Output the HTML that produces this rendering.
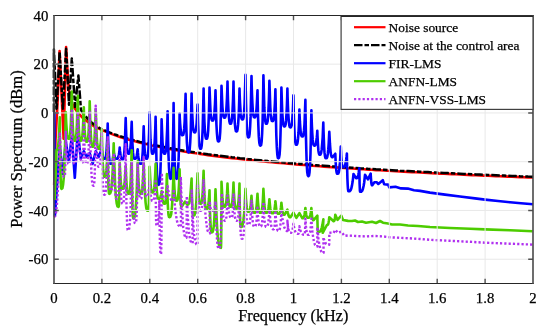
<!DOCTYPE html>
<html><head><meta charset="utf-8"><style>
html,body{margin:0;padding:0;background:#fff;width:550px;height:330px;overflow:hidden}
svg{display:block}
text{font-family:"Liberation Serif",serif;fill:#000;stroke:#000;stroke-width:0.25px}
</style></head><body>
<svg width="550" height="330" viewBox="0 0 550 330">
<polyline points="54.2,185.0 55.5,140.0 57.5,104.0 59.6,51.0 63.6,138.8 66.1,47.1 68.0,80.0 69.8,99.0 74.0,107.0 78.0,113.0 83.0,118.2 90.0,123.5 95.0,126.8 100.0,129.1 104.0,130.9 108.0,132.6 112.0,134.1 116.0,135.6 120.0,137.0 124.0,138.2 128.0,139.4 132.0,140.6 136.0,141.6 140.0,142.7 144.0,143.6 148.0,144.6 152.0,145.5 156.0,146.3 160.0,147.1 164.0,147.9 168.0,148.7 172.0,149.4 176.0,150.1 180.0,150.8 184.0,151.5 188.0,152.1 192.0,152.7 196.0,153.3 200.0,153.9 204.0,154.5 208.0,155.1 212.0,155.6 216.0,156.1 220.0,156.6 224.0,157.1 228.0,157.6 232.0,158.1 236.0,158.5 240.0,159.0 244.0,159.4 248.0,159.9 252.0,160.3 256.0,160.7 260.0,161.1 264.0,161.5 268.0,161.9 272.0,162.2 276.0,162.6 280.0,163.0 284.0,163.3 288.0,163.7 292.0,164.0 296.0,164.4 300.0,164.7 304.0,165.0 308.0,165.3 312.0,165.7 316.0,166.0 320.0,166.3 324.0,166.6 328.0,166.9 332.0,167.2 336.0,167.4 340.0,167.7 344.0,168.0 348.0,168.3 352.0,168.5 356.0,168.8 360.0,169.1 364.0,169.3 368.0,169.6 372.0,169.8 376.0,170.1 380.0,170.3 384.0,170.5 388.0,170.8 392.0,171.0 396.0,171.2 400.0,171.5 404.0,171.7 408.0,171.9 412.0,172.1 416.0,172.3 420.0,172.5 424.0,172.7 428.0,172.9 432.0,173.2 436.0,173.4 440.0,173.6 444.0,173.7 448.0,173.9 452.0,174.1 456.0,174.3 460.0,174.5 464.0,174.7 468.0,174.9 472.0,175.1 476.0,175.2 480.0,175.4 484.0,175.6 488.0,175.8 492.0,175.9 496.0,176.1 500.0,176.3 504.0,176.4 508.0,176.6 512.0,176.8 516.0,176.9 520.0,177.1 524.0,177.2 528.0,177.4 532.0,177.5 533.0,177.6" fill="none" stroke="#ff0000" stroke-width="2.6" stroke-linejoin="round" />
<polyline points="53.9,112.0 53.9,49.4 56.6,108.8 59.6,52.0 62.9,108.8 66.1,48.8 69.0,104.8 71.8,58.5 75.1,106.8 78.4,75.6 81.0,110.0 84.0,114.5 90.0,121.3 95.0,125.2 100.0,128.3 104.0,130.1 108.0,131.8 112.0,133.3 116.0,134.8 120.0,136.2 124.0,137.4 128.0,138.6 132.0,139.8 136.0,140.8 140.0,141.9 144.0,142.8 148.0,143.8 152.0,144.7 156.0,145.5 160.0,146.3 164.0,147.1 168.0,147.9 172.0,148.6 176.0,149.3 180.0,150.0 184.0,150.7 188.0,151.3 192.0,151.9 196.0,152.5 200.0,153.1 204.0,153.7 208.0,154.3 212.0,154.8 216.0,155.3 220.0,155.8 224.0,156.3 228.0,156.8 232.0,157.3 236.0,157.7 240.0,158.2 244.0,158.6 248.0,159.1 252.0,159.5 256.0,159.9 260.0,160.3 264.0,160.7 268.0,161.1 272.0,161.4 276.0,161.8 280.0,162.2 284.0,162.5 288.0,162.9 292.0,163.2 296.0,163.6 300.0,163.9 304.0,164.2 308.0,164.5 312.0,164.9 316.0,165.2 320.0,165.5 324.0,165.8 328.0,166.1 332.0,166.4 336.0,166.6 340.0,166.9 344.0,167.2 348.0,167.5 352.0,167.7 356.0,168.0 360.0,168.3 364.0,168.5 368.0,168.8 372.0,169.0 376.0,169.3 380.0,169.5 384.0,169.7 388.0,170.0 392.0,170.2 396.0,170.4 400.0,170.7 404.0,170.9 408.0,171.1 412.0,171.3 416.0,171.5 420.0,171.7 424.0,171.9 428.0,172.1 432.0,172.4 436.0,172.6 440.0,172.8 444.0,172.9 448.0,173.1 452.0,173.3 456.0,173.5 460.0,173.7 464.0,173.9 468.0,174.1 472.0,174.3 476.0,174.4 480.0,174.6 484.0,174.8 488.0,175.0 492.0,175.1 496.0,175.3 500.0,175.5 504.0,175.6 508.0,175.8 512.0,176.0 516.0,176.1 520.0,176.3 524.0,176.4 528.0,176.6 532.0,176.7 533.0,176.8" fill="none" stroke="#000000" stroke-width="2.5" stroke-linejoin="round" stroke-dasharray="8.5,2,4.5,2"/>
<polyline points="54.4,112.0 54.9,215.8 59.8,146.2 62.8,173.8 65.8,141.2 68.8,161.8 71.8,136.2 74.8,177.8 77.8,131.2 80.8,158.8 83.8,151.2 86.7,156.8 89.7,153.2 92.7,163.8 95.7,151.2 98.7,156.8 101.7,149.2 102.0,151.3 102.3,153.5 102.6,155.5 103.1,157.2 103.6,158.3 104.1,158.8 104.7,158.8 105.3,158.6 105.9,156.9 106.4,153.0 106.8,146.7 107.2,139.3 107.5,131.3 107.7,123.5 107.9,132.4 108.2,141.6 108.6,150.0 109.1,157.1 109.6,161.6 110.1,163.5 110.7,163.8 111.3,163.7 111.8,163.2 112.4,161.7 112.8,159.5 113.2,156.8 113.5,154.0 113.7,151.2 113.9,152.9 114.2,154.6 114.6,156.2 115.0,157.6 115.6,158.4 116.1,158.8 116.7,158.8 117.3,158.8 117.8,158.2 118.3,157.0 118.8,155.0 119.2,152.6 119.5,150.1 119.7,147.6 119.9,150.2 120.2,152.8 120.6,155.3 121.0,157.4 121.5,158.7 122.1,159.3 122.7,159.3 123.3,159.0 123.8,157.1 124.3,152.5 124.8,145.1 125.1,136.5 125.4,127.1 125.7,118.0 125.9,125.9 126.2,134.1 126.6,141.5 127.0,147.9 127.5,151.9 128.1,153.6 128.7,153.8 129.3,153.6 129.8,152.1 130.3,148.5 130.8,142.8 131.1,136.1 131.4,128.8 131.7,121.7 131.9,129.9 132.2,138.3 132.6,146.1 133.0,152.7 133.5,156.8 134.1,158.6 134.7,158.8 135.3,158.8 135.8,158.3 136.3,157.2 136.8,155.5 137.1,153.5 137.4,151.3 137.7,149.2 137.9,152.4 138.2,155.7 138.6,158.8 139.0,161.4 139.5,163.0 140.1,163.7 140.7,163.8 141.3,163.5 141.8,161.8 142.3,157.6 142.8,150.9 143.1,143.1 143.4,134.5 143.7,126.2 143.9,133.4 144.2,140.8 144.5,147.6 145.0,153.4 145.5,157.1 146.0,158.6 146.6,158.8 147.2,158.5 147.8,156.3 148.3,151.1 148.7,143.0 149.1,133.3 149.4,122.8 149.6,112.6 149.9,121.7 150.2,131.1 150.5,139.7 151.0,147.0 151.5,151.6 152.0,153.5 152.6,153.8 153.2,153.6 153.8,151.8 154.3,147.7 154.7,141.1 155.1,133.3 155.4,124.9 155.6,116.7 155.9,131.7 156.2,147.2 156.5,161.5 157.0,173.5 157.5,181.1 158.0,184.3 158.6,184.8 159.2,184.3 159.8,181.3 160.3,174.0 160.7,162.4 161.1,148.7 161.4,133.8 161.6,119.4 161.9,127.0 162.2,134.8 162.5,142.0 163.0,148.1 163.5,152.0 164.0,153.6 164.6,153.8 165.2,153.5 165.8,151.5 166.3,146.7 166.7,139.2 167.1,130.3 167.4,120.6 167.6,111.2 167.8,126.1 168.1,141.5 168.5,155.6 169.0,167.6 169.5,175.1 170.0,178.3 170.6,178.8 171.2,178.2 171.7,174.7 172.3,166.2 172.7,152.8 173.1,137.0 173.4,119.7 173.6,103.0 173.8,119.7 174.1,137.0 174.5,152.8 174.9,166.2 175.5,174.7 176.0,178.2 176.6,178.8 177.2,178.3 177.7,175.3 178.2,168.0 178.7,156.5 179.1,142.8 179.4,128.0 179.6,113.6 179.8,118.4 180.1,123.3 180.5,127.8 180.9,131.6 181.4,134.1 182.0,135.1 182.6,135.2 183.2,134.9 183.7,133.0 184.2,128.4 184.7,121.0 185.0,112.4 185.3,103.0 185.6,93.9 185.8,106.8 186.1,120.1 186.5,132.4 186.9,142.7 187.4,149.2 188.0,152.0 188.6,152.4 189.2,152.0 189.7,149.2 190.2,142.7 190.7,132.2 191.0,120.0 191.3,106.6 191.6,93.6 191.8,102.2 192.1,111.0 192.5,119.1 192.9,126.0 193.4,130.3 194.0,132.1 194.6,132.4 195.2,132.2 195.7,130.9 196.2,127.8 196.7,122.8 197.0,117.0 197.3,110.6 197.6,104.5 197.8,114.3 198.1,124.4 198.5,133.6 198.9,141.5 199.4,146.4 200.0,148.5 200.6,148.8 201.2,148.4 201.7,145.5 202.2,138.8 202.7,128.1 203.0,115.5 203.3,101.8 203.6,88.5 203.8,99.6 204.1,111.1 204.4,121.6 204.9,130.5 205.4,136.1 205.9,138.4 206.5,138.8 207.1,138.4 207.7,136.0 208.2,130.3 208.6,121.3 209.0,110.6 209.3,98.9 209.5,87.6 209.8,94.9 210.1,102.4 210.4,109.3 210.9,115.1 211.4,118.8 211.9,120.4 212.5,120.6 213.1,120.4 213.7,119.0 214.2,115.6 214.6,110.2 215.0,103.9 215.3,97.0 215.5,90.2 215.8,101.6 216.1,113.3 216.4,124.0 216.9,133.0 217.4,138.7 217.9,141.1 218.5,141.5 219.1,141.1 219.7,138.5 220.2,132.2 220.6,122.4 221.0,110.7 221.3,98.0 221.5,85.7 221.8,92.8 222.1,100.1 222.4,106.8 222.9,112.5 223.4,116.1 223.9,117.6 224.5,117.8 225.1,117.6 225.7,115.9 226.2,111.8 226.6,105.4 227.0,97.8 227.3,89.6 227.5,81.6 227.7,90.9 228.0,100.5 228.4,109.3 228.9,116.8 229.4,121.5 229.9,123.5 230.5,123.8 231.1,123.5 231.6,121.5 232.2,116.8 232.6,109.3 233.0,100.5 233.3,90.9 233.5,81.6 233.7,92.6 234.0,104.0 234.4,114.4 234.8,123.2 235.4,128.8 235.9,131.1 236.5,131.5 237.1,131.2 237.6,129.2 238.1,124.4 238.6,116.8 239.0,107.8 239.3,98.0 239.5,88.5 239.7,95.3 240.0,102.4 240.4,108.9 240.8,114.4 241.3,117.8 241.9,119.3 242.5,119.5 243.1,119.2 243.6,117.1 244.1,112.1 244.6,104.2 244.9,94.8 245.2,84.7 245.5,74.8 245.7,88.6 246.0,102.9 246.4,115.9 246.8,127.0 247.3,134.0 247.9,136.9 248.5,137.4 249.1,137.0 249.6,134.1 250.1,127.2 250.6,116.4 250.9,103.6 251.2,89.6 251.5,76.1 251.7,85.2 252.0,94.6 252.4,103.2 252.8,110.6 253.3,115.2 253.9,117.1 254.5,117.4 255.1,117.2 255.6,116.0 256.1,112.9 256.6,108.1 256.9,102.5 257.2,96.3 257.5,90.2 257.7,102.5 258.0,115.1 258.4,126.6 258.8,136.4 259.3,142.6 259.9,145.2 260.5,145.7 261.1,145.1 261.6,141.8 262.1,134.0 262.6,121.5 262.9,106.9 263.2,90.9 263.4,75.4 263.7,86.1 264.0,97.1 264.3,107.2 264.8,115.8 265.3,121.2 265.8,123.5 266.4,123.8 267.0,123.5 267.6,121.5 268.1,116.7 268.5,109.1 268.9,100.1 269.2,90.3 269.4,80.8 269.7,89.7 270.0,98.9 270.3,107.3 270.8,114.4 271.3,118.9 271.8,120.8 272.4,121.1 273.0,120.9 273.6,119.4 274.1,115.9 274.5,110.2 274.9,103.6 275.2,96.4 275.4,89.4 275.7,104.6 276.0,120.3 276.3,134.7 276.8,146.9 277.3,154.6 277.8,157.8 278.4,158.3 279.0,157.8 279.6,154.5 280.1,146.6 280.5,134.1 280.9,119.3 281.2,103.2 281.4,87.6 281.7,96.2 282.0,105.0 282.3,113.2 282.8,120.1 283.3,124.4 283.8,126.2 284.4,126.5 285.0,126.2 285.6,124.5 286.1,120.2 286.5,113.5 286.9,105.5 287.2,96.9 287.4,88.5 287.6,97.1 287.9,105.9 288.3,114.1 288.8,121.0 289.3,125.3 289.8,127.1 290.4,127.4 291.0,127.2 291.5,125.7 292.1,122.1 292.5,116.4 292.9,109.8 293.2,102.5 293.4,95.4 293.6,106.3 293.9,117.5 294.3,127.8 294.7,136.5 295.3,142.0 295.8,144.4 296.4,144.8 297.0,144.5 297.5,142.8 298.0,138.9 298.5,132.7 298.9,125.3 299.2,117.3 299.4,109.6 299.6,115.5 299.9,121.7 300.3,127.3 300.7,132.1 301.2,135.1 301.8,136.3 302.4,136.5 303.0,136.3 303.5,134.5 304.0,130.4 304.5,124.0 304.8,116.3 305.1,108.0 305.4,99.9 305.6,116.7 305.9,134.1 306.3,150.0 306.7,163.5 307.2,172.0 307.8,175.5 308.4,176.2 309.0,175.6 309.5,172.5 310.0,165.2 310.5,153.5 310.8,139.8 311.1,124.8 311.4,110.2 311.6,118.0 311.9,126.1 312.3,133.5 312.7,139.7 313.2,143.7 313.8,145.4 314.4,145.7 315.0,145.5 315.5,144.8 316.0,143.2 316.4,140.5 316.8,137.4 317.1,134.0 317.3,130.7 317.5,136.0 317.8,141.5 318.1,146.5 318.4,150.7 318.9,153.4 319.3,154.6 319.8,154.8 320.5,154.5 321.1,153.0 321.7,149.4 322.2,143.7 322.7,137.0 323.0,129.7 323.3,122.6 323.5,130.5 323.8,138.6 324.1,146.1 324.5,152.4 325.0,156.4 325.5,158.1 326.0,158.3 326.7,158.1 327.3,156.9 327.8,153.9 328.3,149.2 328.7,143.6 329.0,137.6 329.3,131.7 329.6,137.3 329.9,143.2 330.3,148.5 330.7,153.1 331.3,155.9 331.9,157.1 332.5,157.3 335.3,153.7 335.5,158.1 335.7,162.7 336.0,166.9 336.3,170.5 336.7,172.7 337.1,173.7 337.5,173.8 338.2,173.6 338.8,172.3 339.3,169.3 339.8,164.5 340.2,158.7 340.5,152.5 340.8,146.5 341.0,151.1 341.2,155.8 341.5,160.2 341.8,163.9 342.2,166.2 342.6,167.2 343.0,167.3 343.8,167.2 344.5,166.6 345.1,165.0 345.7,162.6 346.2,159.7 346.6,156.5 346.9,153.5 347.0,161.8 347.2,170.5 347.4,178.4 347.7,185.0 348.0,189.3 348.3,191.0 348.6,191.3 349.6,191.2 350.5,190.4 351.3,188.5 352.0,185.4 352.6,181.8 353.1,177.8 353.5,174.0 356.0,178.2 356.7,178.2 357.3,177.7 357.8,176.6 358.3,174.8 358.7,172.7 359.0,170.5 359.3,168.2 359.4,173.5 359.5,178.8 359.6,183.8 359.8,187.9 359.9,190.6 360.1,191.7 360.3,191.8 361.2,191.7 362.1,190.9 362.9,189.0 363.6,186.0 364.2,182.5 364.6,178.6 365.0,174.8 367.9,179.4 370.7,173.6 370.8,176.2 371.0,178.8 371.2,181.3 371.4,183.4 371.7,184.7 372.0,185.3 372.3,185.3 374.4,182.3 376.6,182.2 378.3,184.0 382.8,180.2 384.2,184.3 388.1,184.6 389.3,187.4 395.5,186.8 401.0,188.4 407.8,188.6 414.0,190.3 420.0,190.9 430.0,192.6 445.0,194.6 460.0,196.5 475.0,198.4 485.0,199.6 498.0,201.0 510.0,202.3 521.0,203.3 533.0,204.3" fill="none" stroke="#0000ff" stroke-width="2.6" stroke-linejoin="round" />
<polyline points="54.6,200.0 56.5,150.0 57.2,149.7 57.8,148.2 58.3,144.5 58.8,138.7 59.2,131.9 59.5,124.4 59.8,117.2 59.9,133.0 60.1,149.3 60.3,164.3 60.6,176.9 60.9,184.9 61.2,188.3 61.5,188.8 62.4,188.2 63.1,184.6 63.9,176.1 64.5,162.5 65.0,146.6 65.4,129.1 65.8,112.2 66.0,118.1 66.3,124.1 66.7,129.7 67.1,134.4 67.6,137.4 68.2,138.6 68.8,138.8 69.4,138.5 69.9,136.2 70.4,131.0 70.9,122.6 71.2,112.7 71.5,101.9 71.8,91.5 72.0,102.4 72.3,113.6 72.7,123.9 73.1,132.6 73.6,138.1 74.2,140.5 74.8,140.8 75.4,140.5 75.9,138.4 76.4,133.3 76.9,125.3 77.2,115.9 77.5,105.7 77.8,95.7 78.0,105.7 78.3,115.9 78.7,125.3 79.1,133.3 79.6,138.4 80.2,140.5 80.8,140.8 81.4,140.6 81.9,139.0 82.4,135.2 82.9,129.3 83.2,122.3 83.5,114.6 83.8,107.2 84.0,114.8 84.3,122.7 84.6,129.9 85.1,136.1 85.6,139.9 86.1,141.6 86.7,141.8 87.3,141.5 87.9,139.6 88.4,135.1 88.8,127.9 89.2,119.4 89.5,110.2 89.7,101.2 90.0,111.3 90.3,121.7 90.6,131.2 91.1,139.2 91.6,144.3 92.1,146.5 92.7,146.8 93.3,146.5 93.9,144.8 94.4,140.6 94.8,133.9 95.2,126.1 95.5,117.5 95.7,109.2 96.0,117.9 96.3,127.0 96.6,135.2 97.1,142.2 97.6,146.7 98.1,148.5 98.7,148.8 99.3,148.7 99.9,147.8 100.4,145.6 100.8,142.1 101.2,138.0 101.5,133.5 101.7,129.2 102.0,139.7 102.3,150.5 102.6,160.5 103.1,168.9 103.6,174.2 104.1,176.5 104.7,176.8 105.3,176.6 105.9,174.9 106.4,170.9 106.8,164.6 107.2,157.2 107.5,149.1 107.7,141.2 107.8,152.8 108.0,164.8 108.2,175.8 108.4,185.1 108.7,191.0 109.0,193.4 109.3,193.8 110.2,193.4 111.0,191.1 111.7,185.4 112.4,176.5 112.9,165.9 113.3,154.4 113.7,143.2 114.1,157.2 114.6,171.7 115.1,185.0 115.9,196.3 116.7,203.4 117.5,206.3 118.5,206.8 118.7,206.5 119.0,204.3 119.2,199.2 119.3,191.2 119.5,181.7 119.6,171.3 119.7,161.2 119.9,167.3 120.2,173.6 120.6,179.3 121.0,184.2 121.5,187.3 122.1,188.6 122.7,188.8 123.3,188.7 123.8,187.6 124.3,185.1 124.8,181.1 125.1,176.3 125.4,171.2 125.7,166.2 125.9,172.3 126.2,178.6 126.6,184.3 127.0,189.2 127.5,192.3 128.1,193.6 128.7,193.8 129.3,193.5 129.8,191.5 130.3,186.6 130.8,178.9 131.1,169.8 131.4,159.8 131.7,150.2 131.8,165.2 132.0,180.7 132.2,195.0 132.4,207.0 132.7,214.6 133.1,217.8 133.4,218.3 134.3,217.9 135.0,215.2 135.7,208.8 136.4,198.7 136.9,186.8 137.3,173.8 137.7,161.2 137.9,168.4 138.2,175.8 138.6,182.6 139.0,188.4 139.5,192.1 140.1,193.6 140.7,193.8 141.3,193.6 141.8,192.1 142.3,188.4 142.8,182.6 143.1,175.8 143.4,168.4 143.7,161.2 144.0,172.1 144.4,183.4 145.0,193.8 145.6,202.6 146.3,208.1 147.1,210.5 148.0,210.8 148.3,210.5 148.6,208.4 148.9,203.5 149.1,195.7 149.3,186.5 149.5,176.4 149.6,166.7 149.9,172.4 150.2,178.2 150.5,183.6 151.0,188.2 151.5,191.0 152.0,192.2 152.6,192.4 153.2,192.2 153.8,190.9 154.3,187.7 154.7,182.6 155.1,176.6 155.4,170.0 155.6,163.7 155.9,171.4 156.2,179.4 156.5,186.8 157.0,193.0 157.5,196.9 158.0,198.6 158.6,198.8 159.2,198.8 159.8,198.4 160.3,197.6 160.7,196.2 161.1,194.6 161.4,192.9 161.6,191.2 161.9,194.0 162.2,196.8 162.5,199.5 163.0,201.7 163.5,203.2 164.0,203.7 164.6,203.8 165.1,203.6 165.5,202.2 165.9,198.9 166.2,193.6 166.5,187.4 166.7,180.6 166.9,174.0 167.1,183.5 167.4,193.4 167.7,202.4 168.1,210.0 168.5,214.9 169.0,216.9 169.5,217.2 170.3,216.9 171.1,214.5 171.8,209.0 172.4,200.2 172.9,189.9 173.3,178.6 173.6,167.7 173.8,175.0 174.1,182.5 174.5,189.5 174.9,195.3 175.5,199.0 176.0,200.6 176.6,200.8 177.2,200.6 177.7,199.1 178.2,195.6 178.7,190.0 179.1,183.4 179.4,176.2 179.6,169.2 179.8,177.5 180.0,186.1 180.2,193.9 180.5,200.6 180.8,204.8 181.2,206.5 181.6,206.8 185.0,201.6 187.4,204.8 188.2,204.6 189.0,203.4 189.7,200.5 190.3,195.8 190.8,190.3 191.2,184.3 191.6,178.5 191.7,186.7 191.9,195.1 192.2,202.8 192.5,209.4 192.8,213.5 193.2,215.3 193.6,215.5 194.4,215.2 195.1,213.2 195.8,208.5 196.4,201.1 196.8,192.3 197.2,182.7 197.6,173.3 197.8,180.1 198.1,187.0 198.5,193.4 198.9,198.8 199.4,202.2 200.0,203.6 200.6,203.8 201.2,203.6 201.7,202.0 202.2,198.3 202.7,192.5 203.0,185.5 203.3,178.0 203.6,170.7 203.8,179.1 204.1,187.8 204.4,195.7 204.9,202.5 205.4,206.8 205.9,208.5 206.5,208.8 207.1,208.7 207.7,207.8 208.2,205.7 208.6,202.4 209.0,198.5 209.3,194.3 209.5,190.2 209.7,199.5 209.9,209.1 210.2,217.9 210.6,225.4 210.9,230.1 211.3,232.1 211.8,232.4 212.5,232.1 213.2,230.1 213.9,225.3 214.4,217.7 214.9,208.7 215.2,198.9 215.5,189.3 216.0,202.3 216.5,215.6 217.1,227.8 217.9,238.1 218.9,244.6 219.8,247.4 220.9,247.8 221.0,247.3 221.1,244.2 221.2,236.8 221.3,225.1 221.4,211.3 221.5,196.3 221.5,181.7 221.8,187.2 222.1,193.0 222.4,198.2 222.9,202.7 223.4,205.5 223.9,206.6 224.5,206.8 225.1,206.7 225.7,205.6 226.2,203.0 226.6,198.8 227.0,193.9 227.3,188.6 227.5,183.5 227.7,188.6 228.0,193.9 228.4,198.8 228.9,203.0 229.4,205.6 229.9,206.7 230.5,206.8 231.1,206.7 231.6,205.5 232.2,202.8 232.6,198.5 233.0,193.5 233.3,187.9 233.5,182.6 233.7,188.4 234.0,194.3 234.4,199.8 234.8,204.5 235.4,207.4 235.9,208.6 236.5,208.8 237.1,208.6 237.6,207.5 238.1,204.6 238.6,200.1 239.0,194.8 239.3,189.1 239.5,183.5 239.6,193.1 239.7,203.0 239.9,212.1 240.1,219.8 240.4,224.7 240.6,226.7 240.9,227.0 241.8,226.7 242.6,224.9 243.4,220.7 244.1,213.9 244.7,205.9 245.1,197.1 245.5,188.7 245.7,193.8 246.0,199.1 246.4,203.9 246.8,208.0 247.3,210.6 247.9,211.7 248.5,211.8 249.1,211.7 249.6,211.0 250.1,209.2 250.6,206.3 250.9,202.9 251.2,199.2 251.5,195.7 251.7,199.5 252.0,203.4 252.4,207.0 252.8,210.0 253.3,211.9 253.9,212.7 254.5,212.8 255.1,212.7 255.6,211.8 256.1,209.7 256.6,206.3 256.9,202.3 257.2,197.9 257.5,193.7 257.7,197.9 258.0,202.3 258.4,206.3 258.8,209.7 259.3,211.8 259.9,212.7 260.5,212.8 261.1,212.7 261.6,211.5 262.1,208.8 262.6,204.5 262.9,199.5 263.2,194.0 263.4,188.7 263.7,194.0 264.0,199.5 264.3,204.5 264.8,208.8 265.3,211.5 265.8,212.7 266.4,212.8 267.0,212.7 267.6,212.1 268.1,210.6 268.5,208.2 268.9,205.3 269.2,202.2 269.4,199.2 269.7,202.3 270.0,205.5 270.3,208.5 270.8,211.0 271.3,212.6 271.8,213.2 272.4,213.3 273.0,213.3 273.6,212.7 274.1,211.3 274.5,209.2 274.9,206.6 275.2,203.9 275.4,201.2 275.7,204.0 276.0,206.8 276.3,209.5 276.8,211.7 277.3,213.2 277.8,213.7 278.4,213.8 279.0,213.8 279.6,213.2 280.1,212.0 280.5,210.0 280.9,207.7 281.2,205.1 281.4,202.7 281.7,205.4 282.0,208.1 282.3,210.7 282.8,212.8 283.3,214.2 283.8,214.8 284.4,214.8 287.4,209.7 287.6,211.4 287.9,213.1 288.3,214.7 288.8,216.1 289.3,216.9 289.8,217.3 290.4,217.3 293.4,212.7 296.4,217.8 299.4,213.2 302.4,218.3 303.0,218.3 303.5,217.8 304.0,216.6 304.5,214.8 304.8,212.6 305.1,210.3 305.4,208.0 305.6,210.1 305.9,212.4 306.2,214.5 306.6,216.2 307.1,217.3 307.6,217.8 308.2,217.8 308.8,217.8 309.4,217.3 309.9,216.2 310.4,214.5 310.8,212.4 311.1,210.1 311.4,208.0 311.5,210.7 311.8,213.5 312.0,216.0 312.4,218.2 312.8,219.6 313.2,220.2 313.6,220.2 317.4,215.7 317.4,219.3 317.5,223.0 317.6,226.4 317.7,229.3 317.9,231.2 318.0,231.9 318.2,232.0 319.2,231.9 320.2,231.3 321.0,229.9 321.8,227.6 322.4,224.9 322.9,222.0 323.4,219.2 322.7,232.8 326.9,225.0 327.4,224.9 327.9,224.6 328.3,223.7 328.6,222.3 328.9,220.7 329.1,218.9 329.3,217.2 333.6,221.2 333.9,221.1 334.3,220.8 334.6,220.1 334.8,218.9 335.0,217.6 335.2,216.1 335.3,214.7 337.5,219.8 341.3,215.7 343.0,220.0 348.0,220.9 352.0,221.0 355.0,220.5 358.0,222.0 362.0,221.5 366.0,222.7 372.0,221.8 376.0,223.0 380.0,221.0 383.0,222.7 388.0,223.5 392.0,224.5 400.0,224.5 408.0,225.5 418.0,226.0 430.0,227.0 450.0,228.0 470.0,228.8 485.0,229.4 510.0,230.3 532.6,231.2" fill="none" stroke="#4dcc00" stroke-width="2.6" stroke-linejoin="round" />
<polyline points="53.9,217.0 55.1,216.3 56.1,212.3 57.1,202.9 58.0,187.9 58.7,170.2 59.3,150.9 59.8,132.2 60.2,142.0 60.6,152.2 61.2,161.5 61.9,169.4 62.7,174.4 63.6,176.5 64.5,176.8 64.8,176.5 65.0,174.4 65.2,169.4 65.4,161.4 65.5,152.0 65.7,141.8 65.8,131.8 66.0,138.9 66.3,146.2 66.7,152.9 67.1,158.5 67.6,162.1 68.2,163.6 68.8,163.8 69.4,163.4 69.9,160.9 70.4,155.0 70.9,145.6 71.2,134.5 71.5,122.3 71.8,110.6 72.0,122.3 72.3,134.5 72.7,145.6 73.1,155.0 73.6,160.9 74.2,163.4 74.8,163.8 75.4,163.4 75.9,161.1 76.4,155.4 76.9,146.5 77.2,135.9 77.5,124.4 77.8,113.2 78.2,124.1 78.6,135.3 79.2,145.5 80.0,154.2 80.8,159.7 81.7,162.1 82.7,162.4 82.9,162.1 83.1,160.2 83.3,155.5 83.4,148.2 83.6,139.6 83.7,130.1 83.8,121.0 84.0,130.4 84.3,140.2 84.6,149.1 85.1,156.7 85.6,161.5 86.1,163.5 86.7,163.8 87.3,163.4 87.9,161.0 88.4,155.2 88.8,145.9 89.2,135.1 89.5,123.2 89.7,111.7 90.0,128.1 90.4,144.9 90.9,160.4 91.5,173.5 92.1,181.8 92.8,185.3 93.6,185.8 94.0,185.2 94.4,181.4 94.8,172.5 95.1,158.3 95.3,141.6 95.6,123.3 95.7,105.6 96.0,119.1 96.3,133.1 96.6,145.8 97.1,156.7 97.6,163.5 98.1,166.4 98.7,166.8 99.3,166.6 99.9,164.9 100.4,161.1 100.8,154.9 101.2,147.7 101.5,139.8 101.7,132.2 101.9,146.0 102.2,160.3 102.5,173.3 102.9,184.4 103.4,191.4 103.9,194.3 104.4,194.8 105.1,194.4 105.7,191.6 106.2,185.1 106.7,174.7 107.1,162.5 107.4,149.1 107.7,136.2 107.9,148.3 108.2,160.7 108.6,172.1 109.1,181.7 109.6,187.8 110.1,190.4 110.7,190.8 111.3,190.5 111.8,188.8 112.4,184.6 112.8,177.9 113.2,170.1 113.5,161.5 113.7,153.2 113.9,163.3 114.2,173.7 114.6,183.2 115.0,191.2 115.6,196.3 116.1,198.5 116.7,198.8 117.3,198.5 117.8,196.5 118.3,191.7 118.8,184.2 119.2,175.3 119.5,165.6 119.7,156.2 119.9,166.7 120.2,177.5 120.6,187.5 121.0,195.9 121.5,201.2 122.1,203.5 122.7,203.8 123.3,203.4 123.8,200.6 124.3,193.9 124.8,183.4 125.1,170.9 125.4,157.4 125.7,144.2 125.9,163.3 126.1,183.0 126.4,201.0 126.8,216.3 127.2,225.9 127.7,230.0 128.2,230.7 128.9,230.1 129.5,226.8 130.1,219.1 130.6,206.8 131.0,192.3 131.4,176.5 131.7,161.2 132.0,174.9 132.4,189.1 132.8,202.0 133.4,213.0 134.0,219.9 134.7,222.9 135.5,223.3 135.9,222.9 136.3,220.0 136.7,213.3 137.0,202.7 137.3,190.2 137.5,176.5 137.7,163.2 137.9,171.1 138.2,179.2 138.6,186.6 139.0,192.9 139.5,196.9 140.1,198.6 140.7,198.8 141.3,198.5 141.8,196.5 142.3,191.7 142.8,184.2 143.1,175.3 143.4,165.6 143.7,156.2 143.9,165.2 144.2,174.4 144.5,182.9 145.0,190.1 145.5,194.6 146.0,196.5 146.6,196.8 147.2,196.7 147.8,195.9 148.3,194.1 148.7,191.1 149.1,187.6 149.4,183.8 149.6,180.2 149.9,184.7 150.2,189.4 150.5,193.7 151.0,197.4 151.5,199.7 152.0,200.7 152.6,200.8 153.2,200.7 153.8,199.7 154.3,197.2 154.7,193.4 155.1,188.9 155.4,184.0 155.6,179.2 155.7,189.5 155.8,200.1 155.9,209.8 156.0,218.1 156.2,223.3 156.3,225.5 156.5,225.8 157.1,225.7 157.6,224.5 158.0,221.7 158.5,217.4 158.8,212.2 159.1,206.6 159.3,201.2 159.4,212.9 159.6,225.0 159.8,236.1 160.0,245.5 160.3,251.4 160.6,253.9 160.9,254.3 161.1,253.7 161.2,249.9 161.4,240.8 161.5,226.4 161.6,209.5 161.7,191.0 161.8,173.0 162.0,178.7 162.3,184.6 162.6,190.0 163.1,194.5 163.5,197.4 164.1,198.6 164.6,198.8 165.2,198.7 165.8,198.2 166.3,196.7 166.7,194.5 167.1,191.8 167.4,189.0 167.6,186.2 168.1,189.4 168.7,192.7 169.4,195.8 170.3,198.4 171.3,200.0 172.3,200.7 173.5,200.8 173.5,200.8 173.5,200.2 173.6,198.9 173.6,196.8 173.6,194.4 173.6,191.7 173.6,189.2 174.2,197.5 174.9,206.1 175.8,213.9 176.9,220.6 178.2,224.8 179.5,226.5 181.0,226.8 180.8,176.7 181.2,190.2 181.8,204.1 182.5,216.9 183.3,227.7 184.3,234.5 185.3,237.4 186.4,237.8 186.5,237.5 186.5,235.6 186.6,230.9 186.7,223.5 186.7,214.9 186.7,205.4 186.8,196.2 187.3,206.6 187.8,217.3 188.6,227.2 189.4,235.5 190.4,240.8 191.5,243.0 192.7,243.3 191.6,189.2 192.0,201.5 192.6,214.1 193.3,225.7 194.2,235.6 195.2,241.8 196.3,244.4 197.5,244.8 197.5,244.4 197.5,241.5 197.5,234.8 197.5,224.0 197.5,211.4 197.6,197.6 197.6,184.2 197.8,190.1 198.1,196.1 198.5,201.7 198.9,206.4 199.4,209.4 200.0,210.6 200.6,210.8 201.2,210.6 201.7,209.2 202.2,205.7 202.7,200.3 203.0,193.9 203.3,186.9 203.6,180.2 204.1,191.9 204.7,204.0 205.5,215.1 206.5,224.5 207.5,230.4 208.7,232.9 210.0,233.3 209.5,201.2 209.8,203.3 210.1,205.5 210.4,207.5 210.9,209.2 211.4,210.3 211.9,210.8 212.5,210.8 213.1,210.8 213.7,210.3 214.2,209.2 214.6,207.5 215.0,205.5 215.3,203.3 215.5,201.2 215.8,211.7 216.2,222.5 216.6,232.5 217.1,240.9 217.7,246.2 218.3,248.5 219.0,248.8 219.6,248.4 220.1,245.8 220.5,239.6 221.0,229.7 221.3,218.1 221.6,205.5 221.8,193.2 222.1,199.3 222.4,205.6 222.8,211.3 223.2,216.2 223.8,219.3 224.4,220.6 225.0,220.8 225.5,220.6 226.0,219.5 226.4,216.7 226.8,212.2 227.1,207.0 227.3,201.2 227.5,195.7 227.8,200.6 228.2,205.6 228.7,210.2 229.3,214.2 230.0,216.6 230.7,217.7 231.5,217.8 231.9,217.7 232.3,216.5 232.6,213.7 232.9,209.4 233.1,204.2 233.3,198.6 233.5,193.2 233.7,199.3 234.0,205.6 234.4,211.3 234.8,216.2 235.4,219.3 235.9,220.6 236.5,220.8 237.1,220.6 237.6,219.5 238.1,216.7 238.6,212.2 239.0,207.0 239.3,201.2 239.5,195.7 239.7,205.2 239.9,215.0 240.2,224.0 240.6,231.7 241.0,236.5 241.5,238.5 242.0,238.8 242.7,238.5 243.3,236.7 243.9,232.2 244.4,225.2 244.9,217.0 245.2,207.9 245.5,199.2 245.7,204.8 246.0,210.7 246.4,216.0 246.8,220.6 247.3,223.4 247.9,224.6 248.5,224.8 249.1,224.7 249.6,223.5 250.1,220.8 250.6,216.5 250.9,211.5 251.2,206.0 251.5,200.7 251.7,206.4 252.0,212.4 252.4,217.9 252.8,222.5 253.3,225.4 253.9,226.6 254.5,226.8 255.1,226.7 255.6,225.8 256.1,223.7 256.6,220.3 256.9,216.3 257.2,211.9 257.5,207.7 257.7,211.8 258.0,216.1 258.4,220.1 258.8,223.4 259.3,225.5 259.9,226.4 260.5,226.5 261.1,226.4 261.6,225.2 262.1,222.5 262.6,218.2 262.9,213.1 263.2,207.6 263.4,202.2 263.7,207.6 264.0,213.2 264.3,218.4 264.8,222.7 265.3,225.5 265.8,226.7 266.4,226.8 267.0,226.7 267.6,225.9 268.1,224.1 268.5,221.1 268.9,217.6 269.2,213.8 269.4,210.2 269.8,214.4 270.2,218.8 270.7,222.8 271.3,226.2 272.0,228.3 272.8,229.2 273.6,229.3 274.0,229.2 274.3,228.3 274.6,226.2 274.9,222.9 275.1,219.0 275.3,214.8 275.4,210.7 275.7,215.1 276.0,219.7 276.3,223.9 276.8,227.5 277.3,229.7 277.8,230.7 278.4,230.8 279.0,230.7 279.6,229.8 280.1,227.6 280.5,224.1 280.9,220.0 281.2,215.5 281.4,211.2 282.0,215.6 282.6,220.1 283.5,224.3 284.5,227.8 285.6,230.1 286.8,231.0 288.2,231.2 287.4,220.7 287.6,223.4 287.9,226.1 288.3,228.7 288.8,230.8 289.3,232.2 289.8,232.8 290.4,232.8 291.0,232.8 291.5,232.3 292.1,231.3 292.5,229.7 292.9,227.8 293.2,225.7 293.4,223.7 293.8,225.9 294.3,228.2 294.8,230.4 295.6,232.2 296.4,233.3 297.2,233.8 298.2,233.8 298.4,233.8 298.7,233.4 298.9,232.6 299.0,231.2 299.2,229.6 299.3,227.9 299.4,226.2 299.8,228.1 300.3,230.0 300.9,231.8 301.7,233.3 302.6,234.3 303.5,234.7 304.5,234.8 304.7,234.6 304.8,233.9 305.0,232.1 305.1,229.2 305.2,225.9 305.3,222.2 305.4,218.7 305.6,222.2 305.9,225.9 306.3,229.3 306.7,232.2 307.2,234.0 307.8,234.7 308.4,234.8 309.0,234.7 309.5,234.0 310.0,232.2 310.5,229.3 310.8,225.9 311.1,222.2 311.4,218.7 311.8,224.8 312.4,231.2 313.1,237.0 314.0,241.9 315.0,245.0 316.1,246.3 317.3,246.5 317.3,246.4 317.3,245.5 317.3,243.3 317.3,239.9 317.3,235.9 317.4,231.4 317.4,227.2 317.9,232.9 318.5,238.7 319.2,244.1 320.2,248.7 321.2,251.5 322.4,252.7 323.6,252.9 323.4,237.1 323.8,238.8 324.4,240.5 325.1,242.1 325.9,243.5 326.9,244.3 328.0,244.7 329.1,244.8 329.1,244.7 329.2,244.1 329.2,242.7 329.3,240.6 329.3,238.0 329.3,235.3 329.3,232.6 333.6,232.8 335.3,229.8 338.0,232.8 341.3,231.7 344.5,235.9 348.0,235.5 356.0,236.0 366.0,236.4 375.0,236.0 383.0,236.4 390.0,237.3 400.0,237.8 408.0,238.2 420.0,239.0 430.0,239.8 450.0,240.8 470.0,241.8 485.0,242.7 510.0,243.7 532.6,244.6" fill="none" stroke="#b030f0" stroke-width="2.4" stroke-linejoin="round" stroke-dasharray="2.2,2.1"/>
<path d="M101.90 15.4V283.6 M149.80 15.4V283.6 M197.70 15.4V283.6 M245.60 15.4V283.6 M293.50 15.4V283.6 M341.40 15.4V283.6 M389.30 15.4V283.6 M437.20 15.4V283.6 M485.10 15.4V283.6 M54.0 259.22H533.0 M54.0 210.45H533.0 M54.0 161.69H533.0 M54.0 112.93H533.0 M54.0 64.16H533.0" stroke="#e8e8e8" stroke-width="1" fill="none"/>
<path d="M101.90 283.6v-4.8M101.90 15.4v4.8 M149.80 283.6v-4.8M149.80 15.4v4.8 M197.70 283.6v-4.8M197.70 15.4v4.8 M245.60 283.6v-4.8M245.60 15.4v4.8 M293.50 283.6v-4.8M293.50 15.4v4.8 M341.40 283.6v-4.8M341.40 15.4v4.8 M389.30 283.6v-4.8M389.30 15.4v4.8 M437.20 283.6v-4.8M437.20 15.4v4.8 M485.10 283.6v-4.8M485.10 15.4v4.8 M54.0 259.22h4.8M533.0 259.22h-4.8 M54.0 210.45h4.8M533.0 210.45h-4.8 M54.0 161.69h4.8M533.0 161.69h-4.8 M54.0 112.93h4.8M533.0 112.93h-4.8 M54.0 64.16h4.8M533.0 64.16h-4.8" stroke="#505050" stroke-width="1.4" fill="none"/>
<path d="M53.2 15.5H533.8M53.2 283.5H533.8" stroke="#262626" stroke-width="1.15" fill="none"/>
<path d="M54.0 15.0V284.0M533.0 15.0V284.0" stroke="#4a4a4a" stroke-width="1.6" fill="none"/>
<rect x="341.1" y="16.0" width="191.90" height="93.40" fill="#fff" stroke="#404040" stroke-width="1.2"/>
<path d="M341.1 16.3H533.0" stroke="#262626" stroke-width="1.2"/>
<line x1="354" y1="27.2" x2="385.5" y2="27.2" stroke="#ff0000" stroke-width="2.2" />
<text x="388.6" y="31.8" font-size="13.4">Noise source</text>
<line x1="354" y1="45.2" x2="385.5" y2="45.2" stroke="#000000" stroke-width="2.2" stroke-dasharray="8.5,2,4.5,2"/>
<text x="388.6" y="49.8" font-size="13.4">Noise at the control area</text>
<line x1="354" y1="63.2" x2="385.5" y2="63.2" stroke="#0000ff" stroke-width="2.2" />
<text x="388.6" y="67.8" font-size="13.4">FIR-LMS</text>
<line x1="354" y1="81.2" x2="385.5" y2="81.2" stroke="#4dcc00" stroke-width="2.2" />
<text x="388.6" y="85.8" font-size="13.4">ANFN-LMS</text>
<line x1="354" y1="99.2" x2="385.5" y2="99.2" stroke="#b030f0" stroke-width="2.2" stroke-dasharray="2.2,2.1"/>
<text x="388.6" y="103.8" font-size="13.4">ANFN-VSS-LMS</text>
<text x="54.00" y="303" font-size="14.8" text-anchor="middle">0</text>
<text x="101.90" y="303" font-size="14.8" text-anchor="middle">0.2</text>
<text x="149.80" y="303" font-size="14.8" text-anchor="middle">0.4</text>
<text x="197.70" y="303" font-size="14.8" text-anchor="middle">0.6</text>
<text x="245.60" y="303" font-size="14.8" text-anchor="middle">0.8</text>
<text x="293.50" y="303" font-size="14.8" text-anchor="middle">1</text>
<text x="341.40" y="303" font-size="14.8" text-anchor="middle">1.2</text>
<text x="389.30" y="303" font-size="14.8" text-anchor="middle">1.4</text>
<text x="437.20" y="303" font-size="14.8" text-anchor="middle">1.6</text>
<text x="485.10" y="303" font-size="14.8" text-anchor="middle">1.8</text>
<text x="533.00" y="303" font-size="14.8" text-anchor="middle">2</text>
<text x="48.3" y="20.50" font-size="14.8" text-anchor="end">40</text>
<text x="48.3" y="69.26" font-size="14.8" text-anchor="end">20</text>
<text x="48.3" y="118.03" font-size="14.8" text-anchor="end">0</text>
<text x="48.3" y="166.79" font-size="14.8" text-anchor="end">-20</text>
<text x="48.3" y="215.55" font-size="14.8" text-anchor="end">-40</text>
<text x="48.3" y="264.32" font-size="14.8" text-anchor="end">-60</text>
<text x="293.3" y="320.8" font-size="16.2" text-anchor="middle">Frequency (kHz)</text>
<text transform="translate(22.1,149) rotate(-90)" font-size="16.6" text-anchor="middle">Power Spectrum (dBm)</text>
</svg>
</body></html>
